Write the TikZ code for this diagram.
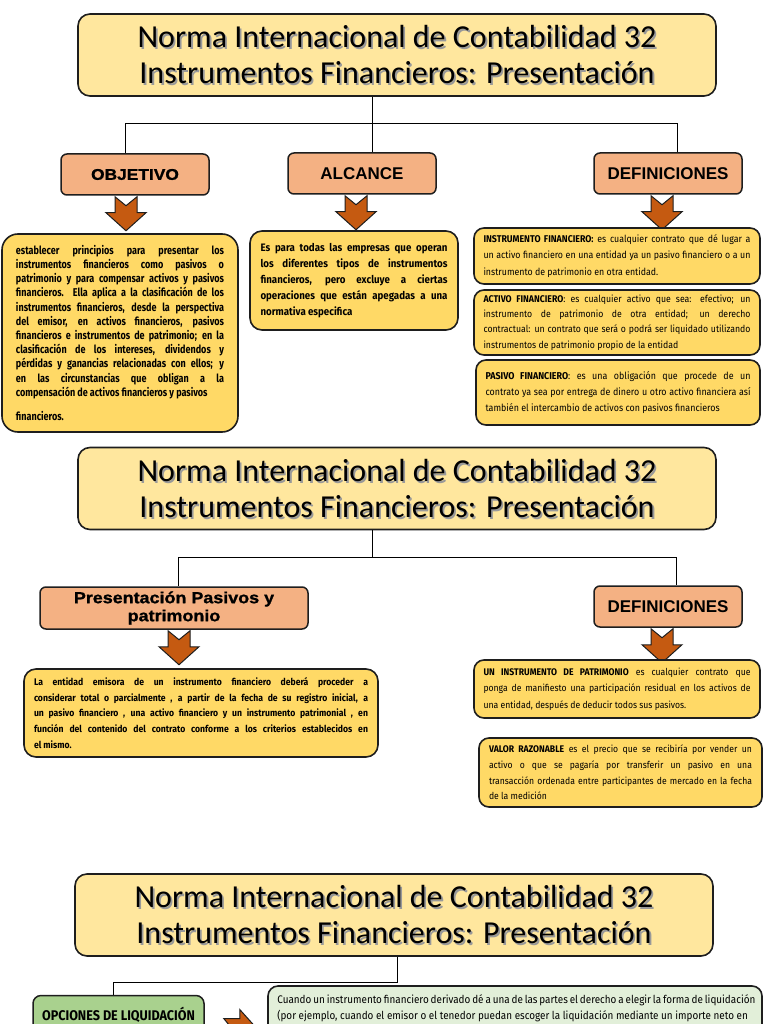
\documentclass[tikz,border=0pt]{standalone}
\usepackage{fontspec}
\setmainfont{Liberation Sans}
\newfontfamily\carlito{Carlito}
\newfontfamily\angosta[FakeStretch=0.9]{Fira Sans}
\newfontfamily\estrecha[FakeStretch=0.8]{Fira Sans}
\newfontfamily\negra[FakeStretch=1.12, FakeBold=1.2]{Liberation Sans}
\definecolor{amarilloclaro}{HTML}{FFE79E}
\definecolor{salmon}{HTML}{F4B183}
\definecolor{amarillo}{HTML}{FFD966}
\definecolor{naranja}{HTML}{C55A11}
\definecolor{verde}{HTML}{A9D18E}
\definecolor{verdeclaro}{HTML}{E2EFD9}
\definecolor{borde}{HTML}{1E1E1E}

\tikzset{
  titulo/.style={draw=borde, line width=1.6pt, fill=amarilloclaro, rounded corners=12pt,
    minimum width=638pt, minimum height=82pt},
  tittexto/.style={font=\carlito\fontsize{32}{36}\selectfont, align=center, text=black},
  sombra/.style={tittexto, text=black!40},
  encabezado/.style={draw=borde, line width=1.5pt, fill=salmon, rounded corners=6pt,
    minimum width=148pt, minimum height=41pt, align=center,
    font=\bfseries\fontsize{17}{18}\selectfont},
  caja/.style={draw=borde, line width=1.6pt, fill=amarillo, rounded corners=10pt,
    align=justify, inner sep=0pt},
  linea/.style={line width=1pt, draw=black},
  flechaestilo/.style={fill=naranja, draw=borde, line width=1pt, line join=miter},
}

% flecha de bloque bajo cada encabezado
\newcommand{\flecha}[2][]{%
  \filldraw[flechaestilo, shift={(#2)}, #1] (-11,1) -- (0,10) -- (11,1) -- (11,17)
    -- (20,17) -- (0,35) -- (-20,17) -- (-11,17) -- cycle;}

\begin{document}
\begin{tikzpicture}[x=1pt, y=-1pt]
  \fill[white] (0,0) rectangle (768,1024);
  \useasboundingbox (0,0) rectangle (768,1024);

  % los tres titulos
  \foreach \i/\cx/\cy in {1/397/55, 2/397/488.5, 3/394/915}{
    \node[titulo] (t\i) at (\cx,\cy) {};
    \node[sombra] (s\i) at ([shift={(1.8pt,-1.8pt)}]t\i.center)
      {Norma Internacional de Contabilidad 32\\Instrumentos Financieros: Presentación};
    \node[tittexto] (n\i) at (t\i.center)
      {Norma Internacional de Contabilidad 32\\Instrumentos Financieros: Presentación};
  }

  % primera parte
  \node[encabezado, font=\negra\bfseries\fontsize{15.5}{18}\selectfont] (obj) at (135,174.5) {OBJETIVO};
  \node[encabezado] (alc) at (362,173.5) {ALCANCE};
  \node[encabezado] (def1) at (668,173.5) {DEFINICIONES};

  \draw[linea] ([xshift=-25pt]t1.south) -- ++(0,27) coordinate (r1);
  \draw[linea] (r1) -| ([xshift=-10pt]obj.north);
  \draw[linea] (r1) -| ([xshift=9pt]def1.north);
  \draw[linea] (r1) -- (r1 |- alc.north);

  \flecha[xshift=-9pt]{obj.south}
  \flecha[xshift=-6pt]{alc.south}
  \flecha[xshift=-6pt]{def1.south}

  \node[caja, rounded corners=16pt, minimum width=236pt, minimum height=198pt, text width=208pt,
    font=\estrecha\bfseries\fontsize{11.3}{14.2}\selectfont] (objtxt) at (120,333)
    {establecer principios para presentar los\linebreak
     instrumentos financieros como pasivos o\linebreak
     patrimonio y para compensar activos y pasivos\linebreak
     financieros. Ella aplica a la clasificación de los\linebreak
     instrumentos financieros, desde la perspectiva\linebreak
     del emisor, en activos financieros, pasivos\linebreak
     financieros e instrumentos de patrimonio; en la\linebreak
     clasificación de los intereses, dividendos y\linebreak
     pérdidas y ganancias relacionadas con ellos; y\linebreak
     en las circunstancias que obligan a la\linebreak
     compensación de activos financieros y pasivos\\[10pt]
     financieros.};

  \node[caja, rounded corners=12pt, minimum width=208pt, minimum height=99pt, text width=187pt,
    font=\angosta\bfseries\fontsize{10.8}{16}\selectfont] (alctxt) at (354,280.5)
    {Es para todas las empresas que operan\linebreak
     los diferentes tipos de instrumentos\linebreak
     financieros, pero excluye a ciertas\linebreak
     operaciones que están apegadas a una\linebreak
     normativa especifica};

  \node[caja, minimum width=286pt, minimum height=56pt, text width=267pt,
    font=\angosta\fontsize{9.8}{16.5}\selectfont] (instr) at (617,256)
    {\textbf{INSTRUMENTO FINANCIERO:} es cualquier contrato que dé lugar a\linebreak
     un activo financiero en una entidad ya un pasivo financiero o a un\linebreak
     instrumento de patrimonio en otra entidad.};

  \node[caja, minimum width=286pt, minimum height=65pt, text width=267pt,
    font=\angosta\fontsize{9.7}{15.3}\selectfont] (activo) at (617,322.5)
    {\textbf{ACTIVO FINANCIERO}: es cualquier activo que sea: efectivo; un\linebreak
     instrumento de patrimonio de otra entidad; un derecho\linebreak
     contractual: un contrato que será o podrá ser liquidado utilizando\linebreak
     instrumentos de patrimonio propio de la entidad};

  \node[caja, minimum width=284pt, minimum height=65pt, text width=265pt,
    font=\angosta\fontsize{9.9}{16}\selectfont] (pasivo) at (618,392.5)
    {\textbf{PASIVO FINANCIERO}: es una obligación que procede de un\linebreak
     contrato ya sea por entrega de dinero u otro activo financiera así\linebreak
     también el intercambio de activos con pasivos financieros};

  % segunda parte
  \node[encabezado, minimum width=268pt, minimum height=42pt,
    font=\negra\bfseries\fontsize{16}{18}\selectfont] (pre) at (174,608)
    {Presentación Pasivos y\\patrimonio};
  \node[encabezado] (def2) at (668,606.5) {DEFINICIONES};

  \draw[linea] ([xshift=-25pt]t2.south) -- ++(0,27) coordinate (r2);
  \draw[linea] (r2) -| ([xshift=4pt]pre.north);
  \draw[linea] (r2) -| ([xshift=8pt]def2.north);

  \flecha[xshift=5pt]{pre.south}
  \flecha[xshift=-6pt]{def2.south}

  \node[caja, rounded corners=12pt, minimum width=354pt, minimum height=88pt, text width=334pt,
    font=\angosta\bfseries\fontsize{9.6}{15.8}\selectfont] (pretxt) at (201,713)
    {La entidad emisora de un instrumento financiero deberá proceder a\linebreak
     considerar total o parcialmente , a partir de la fecha de su registro inicial, a\linebreak
     un pasivo financiero , una activo financiero y un instrumento patrimonial , en\linebreak
     función del contenido del contrato conforme a los criterios establecidos en\linebreak
     el mismo.};

  \node[caja, minimum width=286pt, minimum height=58pt, text width=267pt,
    font=\angosta\fontsize{9.6}{16.5}\selectfont] (patri) at (617,689)
    {\textbf{UN INSTRUMENTO DE PATRIMONIO} es cualquier contrato que\linebreak
     ponga de manifiesto una participación residual en los activos de\linebreak
     una entidad, después de deducir todos sus pasivos.};

  \node[caja, minimum width=283pt, minimum height=69pt, text width=263pt,
    font=\angosta\fontsize{9.6}{15.7}\selectfont] (valor) at (620.5,772.5)
    {\textbf{VALOR RAZONABLE} es el precio que se recibiría por vender un\linebreak
     activo o que se pagaría por transferir un pasivo en una\linebreak
     transacción ordenada entre participantes de mercado en la fecha\linebreak
     de la medición};

  % tercera parte
  \node[encabezado, fill=verde, rounded corners=8pt, minimum width=171pt, minimum height=50pt,
    text height=10pt, text depth=10pt,
    font=\angosta\bfseries\fontsize{14}{15}\selectfont] (opc) at (118.5,1020.5)
    {OPCIONES DE LIQUIDACIÓN};

  \draw[linea] ([xshift=3pt]t3.south) -- ++(0,26) coordinate (r3);
  \draw[linea] (r3) -| ([xshift=-5pt]opc.north);

  \flecha[rotate=90]{[xshift=18pt, yshift=-9pt]opc.east}

  \node[caja, fill=verdeclaro, minimum width=494pt, minimum height=84pt] (liq) at (515,1028) {};
  \node[anchor=north west, text width=478pt, align=justify, inner sep=0pt,
    font=\angosta\fontsize{11}{16}\selectfont] (liqtxt) at ([shift={(10pt,-9pt)}]liq.north west)
    {Cuando un instrumento financiero derivado dé a una de las partes el derecho a elegir la forma de liquidación\linebreak
     (por ejemplo, cuando el emisor o el tenedor puedan escoger la liquidación mediante un importe neto en};
\end{tikzpicture}
\end{document}
